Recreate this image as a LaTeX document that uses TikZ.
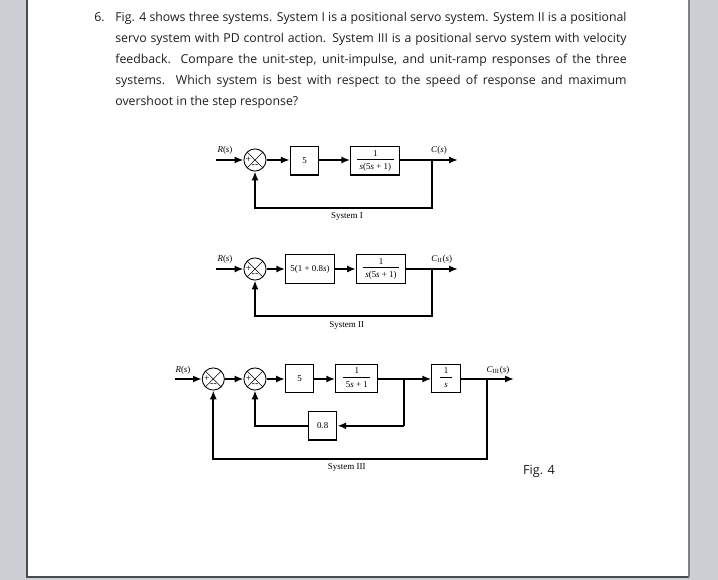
\documentclass[tikz,border=0pt]{standalone}
\usepackage{amsmath}
\usepackage{fontspec}
\setmainfont{Open Sans}
\newfontfamily\figfont{Liberation Serif}
\usetikzlibrary{arrows.meta,calc,positioning}
\definecolor{pagegray}{RGB}{204,208,213}
\definecolor{pageedge}{RGB}{70,76,80}
\definecolor{inktext}{RGB}{30,30,30}
\newcommand{\blockfrac}[2]{\def\arraystretch{0.55}\begin{tabular}{@{\hspace{1.5pt}}c@{\hspace{1.5pt}}}#1\\[0.6pt]\hline\rule{0pt}{5.6pt}#2\end{tabular}}

\begin{document}
\begin{tikzpicture}[
      x=0.02cm, y=-0.02cm,
      blockbox/.style={draw, line width=0.6pt, minimum height=16.2pt, inner sep=0pt, font=\figfont\fontsize{5.1}{6}\selectfont},
      sumnode/.style={circle, draw, line width=0.5pt, minimum size=12.6pt, inner sep=0pt,
        path picture={\draw[line width=0.35pt] (path picture bounding box.north west) -- (path picture bounding box.south east)
          (path picture bounding box.north east) -- (path picture bounding box.south west);}},
      signlabel/.style={inner sep=0pt, font=\figfont\fontsize{5.6}{6}\selectfont},
      siglabel/.style={inner sep=0pt, font=\figfont\fontsize{5.1}{6}\selectfont},
      wire/.style={line width=1.2pt, -{Latex[length=5pt,width=4pt]}},
      plainwire/.style={line width=1.2pt}
    ]
      \useasboundingbox (0,0) rectangle (718,580);

      % Page
      \fill[pagegray] (0,0) rectangle (718,580);
      \fill[white] (27,0) rectangle (689,577);
      \draw[pageedge, line width=0.8pt] (27,0) -- (27,577) -- (689,577);
      \draw[pageedge!70, line width=0.8pt] (689,0) -- (689,577);

      % Question text
      \node[anchor=north west, inner sep=0pt, font=\fontsize{7}{11.95}\selectfont, text=inktext] (qnum) at (94,12.3) {6.};
      \node[anchor=north west, inner sep=0pt, text width=291pt, align=justify, font=\fontsize{7}{11.95}\selectfont, text=inktext] (qtext) at (115,12.3) {
        Fig. 4 shows three systems. System I is a positional servo system. System II is a positional\linebreak
        servo system with PD control action. System III is a positional servo system with velocity\linebreak
        feedback. Compare the unit-step, unit-impulse, and unit-ramp responses of the three\linebreak
        systems. Which system is best with respect to the speed of response and maximum\linebreak
        overshoot in the step response?
      };

      % System I
      \node[sumnode] (sa) at (255,160) {};
      \node[signlabel] (saplus) at (248.5,160) {+};
      \node[signlabel] (saminus) at (255,166.5) {--};
      \node[blockbox, minimum width=16.2pt] (ka) at (304.5,160.8) {5};
      \node[blockbox, minimum width=28pt] (ga) at (375.3,160.8) {\blockfrac{1}{\textit{s}(5\textit{s} + 1)}};
      \coordinate (ina) at (216,160);
      \coordinate (outa) at (458,160);
      \coordinate (bra) at (431.7,160);
      \coordinate (lowa) at (431.7,208.3);
      \draw[wire] (ina) -- (sa);
      \draw[wire] (sa) -- (ka.west |- sa);
      \draw[wire] (ka.east |- sa) -- (ga.west |- sa);
      \draw[wire] (ga.east |- sa) -- (outa);
      \draw[wire] (bra) -- (lowa) -| (sa.south);
      \node[siglabel] (ra) at (225,150.5) {\textit{R}(\textit{s})};
      \node[siglabel] (ca) at (439,150.5) {\textit{C}(\textit{s})};
      \node[siglabel] (namea) at (347,217) {System I};

      % System II
      \node[sumnode] (sb) at (255,269) {};
      \node[signlabel] (sbplus) at (248.5,269) {+};
      \node[signlabel] (sbminus) at (255,275.5) {--};
      \node[blockbox, minimum width=27.7pt] (kb) at (310,269) {5(1 + 0.8\textit{s})};
      \node[blockbox, minimum width=28pt] (gb) at (381,269) {\blockfrac{1}{\textit{s}(5\textit{s} + 1)}};
      \coordinate (inb) at (216,269);
      \coordinate (outb) at (458,269);
      \coordinate (brb) at (431.7,269);
      \coordinate (lowb) at (431.7,316.3);
      \draw[wire] (inb) -- (sb);
      \draw[wire] (sb) -- (kb.west |- sb);
      \draw[wire] (kb.east |- sb) -- (gb.west |- sb);
      \draw[wire] (gb.east |- sb) -- (outb);
      \draw[wire] (brb) -- (lowb) -| (sb.south);
      \node[siglabel] (rb) at (225,259) {\textit{R}(\textit{s})};
      \node[siglabel] (cb) at (441.7,259) {\textit{C}\textsubscript{II}(\textit{s})};
      \node[siglabel] (nameb) at (346.7,325.7) {System II};

      % System III
      \node[sumnode] (sc) at (213.3,379) {};
      \node[signlabel] (scplus) at (206.8,379) {+};
      \node[signlabel] (scminus) at (213.3,385.5) {--};
      \node[sumnode] (sd) at (255,379) {};
      \node[signlabel] (sdplus) at (248.5,379) {+};
      \node[signlabel] (sdminus) at (255,385.5) {--};
      \node[blockbox, minimum width=16.2pt] (kc) at (299.7,378.5) {5};
      \node[blockbox, minimum width=24pt] (gc) at (356.8,378.5) {\blockfrac{1}{5\textit{s} + 1}};
      \node[blockbox, minimum width=16.2pt] (ic) at (446,378.5) {\blockfrac{\,1\,}{\textit{s}}};
      \node[blockbox, minimum width=16.2pt] (hc) at (322.7,425.8) {0.8};
      \coordinate (inc) at (175,379);
      \coordinate (outc) at (514,379);
      \coordinate (brc) at (404.3,379);
      \coordinate (brd) at (486.7,379);
      \coordinate (lowc) at (404.3,425.8);
      \coordinate (lowd) at (486.7,459);
      \draw[wire] (inc) -- (sc);
      \draw[wire] (sc) -- (sd);
      \draw[wire] (sd) -- (kc.west |- sd);
      \draw[wire] (kc.east |- sd) -- (gc.west |- sd);
      \draw[wire] (gc.east |- sd) -- (ic.west |- sd);
      \draw[wire] (ic.east |- sd) -- (outc);
      \draw[plainwire] (brc) -- (lowc);
      \draw[wire] (lowc) -- (hc.east);
      \draw[wire] (hc.west) -| (sd.south);
      \draw[wire] (brd) -- (lowd) -| (sc.south);
      \node[siglabel] (rc) at (183,370) {\textit{R}(\textit{s})};
      \node[siglabel] (cc) at (498,370) {\textit{C}\textsubscript{III}(\textit{s})};
      \node[siglabel] (namec) at (346.7,468) {System III};

      % Figure label
      \node[inner sep=0pt, font=\fontsize{7.2}{9}\selectfont, text=inktext] (figlabel) at (539,471) {Fig. 4};
    \end{tikzpicture}
\end{document}
